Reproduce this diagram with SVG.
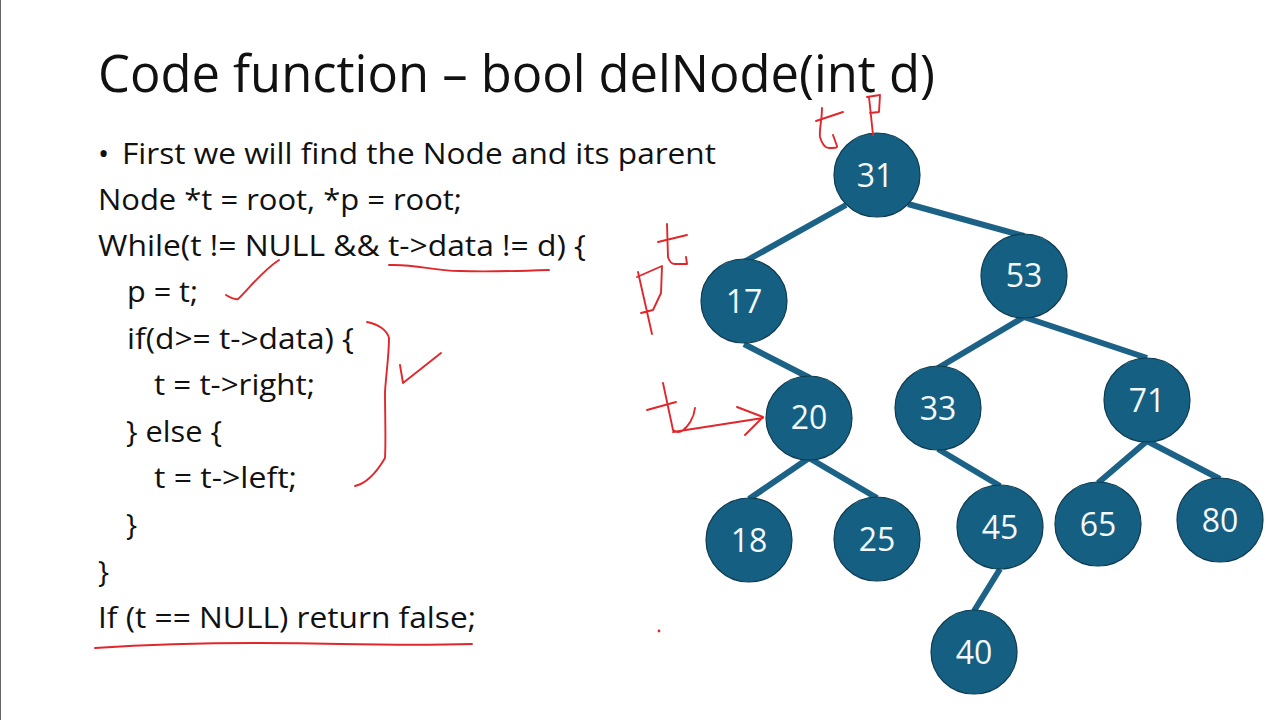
<svg xmlns="http://www.w3.org/2000/svg" width="1280" height="720" viewBox="0 0 1280 720">
<style>
.t{font-family:"Open Sans","Liberation Sans",sans-serif;fill:#111}
.c{font-size:29.5px}
.n{fill:#156082;stroke:#0d3a50;stroke-width:1.2}
.l{font-family:"Open Sans","Liberation Sans",sans-serif;font-size:32px;fill:#f4f8fa;text-anchor:middle}
.e{stroke:#1b6286;stroke-width:6;fill:none}
.r{stroke:#e0282c;stroke-width:1.9;fill:none;stroke-linecap:round;stroke-linejoin:round}
</style>
<rect width="1280" height="720" fill="#fff"/>
<rect x="0" y="0" width="1" height="720" fill="#666"/>
<g id="text">
<text class="t" x="98" y="92" font-size="51" textLength="837" lengthAdjust="spacingAndGlyphs">Code function – bool delNode(int d)</text>
<text class="t c" x="98" y="164">•</text>
<text class="t c" x="122" y="164" textLength="594" lengthAdjust="spacingAndGlyphs">First we will find the Node and its parent</text>
<text class="t c" x="98" y="210" textLength="364" lengthAdjust="spacingAndGlyphs">Node *t = root, *p = root;</text>
<text class="t c" x="98" y="256" textLength="488" lengthAdjust="spacingAndGlyphs">While(t != NULL &amp;&amp; t-&gt;data != d) {</text>
<text class="t c" x="127" y="302" textLength="71" lengthAdjust="spacingAndGlyphs">p = t;</text>
<text class="t c" x="127" y="349" textLength="227" lengthAdjust="spacingAndGlyphs">if(d&gt;= t-&gt;data) {</text>
<text class="t c" x="154" y="395" textLength="161" lengthAdjust="spacingAndGlyphs">t = t-&gt;right;</text>
<text class="t c" x="126" y="442" textLength="96" lengthAdjust="spacingAndGlyphs">} else {</text>
<text class="t c" x="154" y="488" textLength="143" lengthAdjust="spacingAndGlyphs">t = t-&gt;left;</text>
<text class="t c" x="126" y="535">}</text>
<text class="t c" x="98" y="582">}</text>
<text class="t c" x="98" y="628" textLength="378" lengthAdjust="spacingAndGlyphs">If (t == NULL) return false;</text>
</g>
<g id="connectors">
<path class="e" d="M846 205L744 262"/>
<path class="e" d="M908 204L1024 236"/>
<path class="e" d="M744 344L810 378"/>
<path class="e" d="M1024 317L938 368"/>
<path class="e" d="M1024 317L1147 358"/>
<path class="e" d="M809 458L749 499"/>
<path class="e" d="M809 458L877 498"/>
<path class="e" d="M938 449L1000 486"/>
<path class="e" d="M1147 441L1098 483"/>
<path class="e" d="M1147 441L1220 479"/>
<path class="e" d="M1000 569L974 611"/>
</g>
<g id="n31"><ellipse class="n" cx="877" cy="175" rx="43" ry="42"/><text class="l" x="875" y="187">31</text></g>
<g id="n53"><ellipse class="n" cx="1024" cy="276" rx="43" ry="42"/><text class="l" x="1024" y="287">53</text></g>
<g id="n17"><ellipse class="n" cx="744" cy="301" rx="43" ry="42"/><text class="l" x="744" y="313">17</text></g>
<g id="n20"><ellipse class="n" cx="809" cy="418" rx="43" ry="42"/><text class="l" x="809" y="429">20</text></g>
<g id="n33"><ellipse class="n" cx="938" cy="408" rx="43" ry="42"/><text class="l" x="938" y="420">33</text></g>
<g id="n71"><ellipse class="n" cx="1147" cy="400" rx="43" ry="42"/><text class="l" x="1147" y="412">71</text></g>
<g id="n18"><ellipse class="n" cx="749" cy="540" rx="43" ry="42"/><text class="l" x="749" y="552">18</text></g>
<g id="n25"><ellipse class="n" cx="877" cy="539" rx="43" ry="42"/><text class="l" x="877" y="551">25</text></g>
<g id="n45"><ellipse class="n" cx="1000" cy="527" rx="43" ry="42"/><text class="l" x="1000" y="539">45</text></g>
<g id="n65"><ellipse class="n" cx="1098" cy="524" rx="43" ry="42"/><text class="l" x="1098" y="536">65</text></g>
<g id="n80"><ellipse class="n" cx="1220" cy="520" rx="43" ry="42"/><text class="l" x="1220" y="532">80</text></g>
<g id="n40"><ellipse class="n" cx="974" cy="652" rx="43" ry="42"/><text class="l" x="974" y="664">40</text></g>
<g id="ink">
<path class="r" d="M816 121L843 112M822 108C822 120 819 130 820 137C822 144 825 148 829 148C833 148 838 148 837 146L833 135"/>
<path class="r" d="M873 135L869 97M867 97L880 95L879 112L870 113"/>
<path class="r" d="M658 242L687 235M667 224L668 257C669 261 672 264 675 264L687 264L686 257"/>
<path class="r" d="M637 277L662 266L661 293L653 310L641 313M638 272L652 334"/>
<path class="r" d="M647 410L676 402M663 383L673 430C676 433 680 432 682 431C688 427 694 418 695 408M673 432L763 418M737 407L763 417L745 435"/>
<path class="r" d="M226 295C231 298 235 300 238 299C245 293 262 271 279 260"/>
<path class="r" d="M389 265C420 264 430 271 460 271C490 272 520 271 549 270"/>
<path class="r" d="M367 322C378 324 387 330 389 338C389 355 386 375 385 392C385 415 386 440 385 458C378 470 368 483 355 486"/>
<path class="r" d="M400 365L403 383L441 353"/>
<path class="r" d="M95 648C170 643 260 642 340 644C390 645 440 645 472 644"/>
<circle cx="659" cy="631" r="1.4" fill="#e0282c"/>
</g>
</svg>
